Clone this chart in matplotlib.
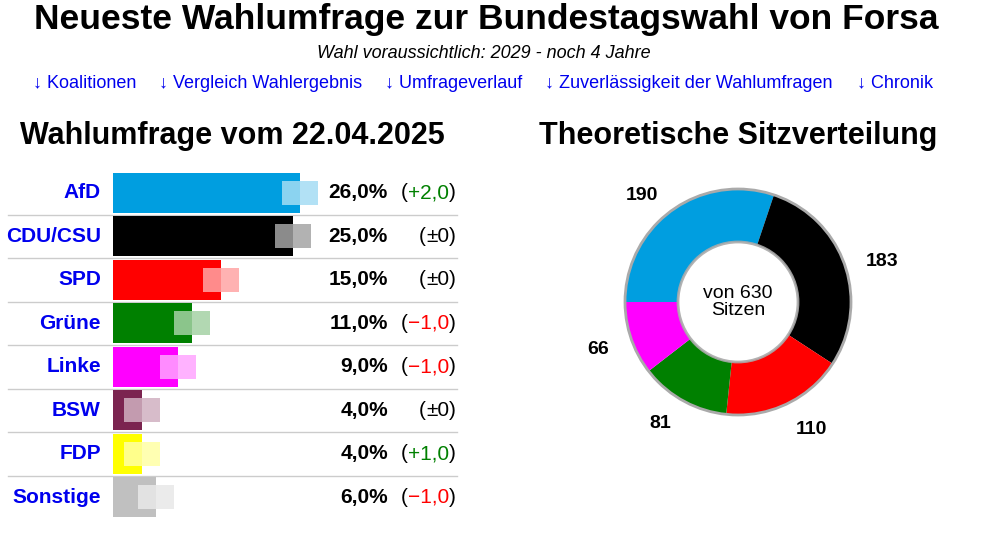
import matplotlib
matplotlib.use("Agg")
import matplotlib.pyplot as plt
from matplotlib.patches import Rectangle, Circle

plt.rcParams['font.family'] = ['Liberation Sans', 'DejaVu Sans']

parties = ["AfD", "CDU/CSU", "SPD", "Grüne", "Linke", "BSW", "FDP", "Sonstige"]
values = [26.0, 25.0, 15.0, 11.0, 9.0, 4.0, 4.0, 6.0]
changes = ["+2,0", "±0", "±0", "−1,0", "−1,0", "±0", "+1,0", "−1,0"]
colors = ["#009ee0", "#000000", "#ff0000", "#008000", "#ff00ff", "#7b2450", "#ffff00", "#c0c0c0"]
seat_parties = ["AfD", "CDU/CSU", "SPD", "Grüne", "Linke"]
seats = [190, 183, 110, 81, 66]
seat_colors = ["#009ee0", "#000000", "#ff0000", "#008000", "#ff00ff"]
links = ["↓ Koalitionen", "↓ Vergleich Wahlergebnis", "↓ Umfrageverlauf",
         "↓ Zuverlässigkeit der Wahlumfragen", "↓ Chronik"]

W, H = 998, 540
fig = plt.figure(figsize=(W/100, H/100), dpi=100)
bg = fig.add_axes([0, 0, 1, 1])
bg.set_xlim(0, W); bg.set_ylim(H, 0); bg.axis("off")
renderer = fig.canvas.get_renderer()

bg.text(486, 20, "Neueste Wahlumfrage zur Bundestagswahl von Forsa", ha="center", va="center",
        fontsize=25.5, fontweight="bold")
bg.text(484, 54, "Wahl voraussichtlich: 2029 - noch 4 Jahre", ha="center", va="center",
        fontsize=13, style="italic")
link_x = [33, 159, 385, 545, 857]
for x, t in zip(link_x, links):
    bg.text(x, 83, t, ha="left", va="center", fontsize=13, color="#0000ee")
bg.text(232, 136, "Wahlumfrage vom 22.04.2025", ha="center", va="center", fontsize=22, fontweight="bold")
bg.text(738, 136, "Theoretische Sitzverteilung", ha="center", va="center", fontsize=22, fontweight="bold")

# bars
top, rowh = 171, 43.5
n = len(parties)
scale = 7.2
ax = fig.add_axes([113/W, 1-(top+n*rowh)/H, 344/W, n*rowh/H])
ax.set_xlim(0, 344/scale); ax.set_ylim(n-0.5, -0.5); ax.axis("off")
ys = list(range(n))
ax.barh(ys, values, height=0.92, color=colors)
for i, v in enumerate(values):
    ax.add_patch(Rectangle((v-2.5, i-0.28), 2.5, 0.56, color="white", alpha=0.55, lw=0))
    ax.add_patch(Rectangle((v, i-0.28), 2.5, 0.56, color=colors[i], alpha=0.3, lw=0))

def width_px(t):
    return t.get_window_extent(renderer).width

for i in range(n):
    yc = top + (i+0.5)*rowh
    bg.text(101, yc, parties[i], ha="right", va="center", fontsize=15, fontweight="bold", color="#0000ee")
    bg.text(388, yc, f"{values[i]:.1f}%".replace(".", ","), ha="right", va="center",
            fontsize=15, fontweight="bold")
    ch = changes[i]
    c = "green" if ch.startswith("+") else ("red" if ch.startswith("−") else "black")
    t1 = bg.text(456, yc, ")", ha="right", va="center", fontsize=15)
    x = 456 - width_px(t1)
    t2 = bg.text(x, yc, ch, ha="right", va="center", fontsize=15, color=c)
    x -= width_px(t2)
    bg.text(x, yc, "(", ha="right", va="center", fontsize=15)
    if i < n-1:
        bg.plot([8, 457], [top+(i+1)*rowh]*2, color="#cccccc", lw=1)

# donut
cx, cy, R = 738, 302, 113
pax = fig.add_axes([(cx-120)/W, 1-(cy+120)/H, 240/W, 240/H])
pax.pie(seats, colors=seat_colors, radius=R, startangle=180, counterclock=False,
        wedgeprops=dict(width=53, linewidth=0))
pax.set_xlim(-120, 120); pax.set_ylim(-120, 120); pax.set_aspect("equal"); pax.axis("off")
pax.add_patch(Circle((0, 0), R, fill=False, ec="#aaaaaa", lw=2))
pax.add_patch(Circle((0, 0), 60, fc="white", alpha=0.9, ec="#aaaaaa", lw=2))
pax.text(0, 0, "von 630\nSitzen", ha="center", va="center", fontsize=14, linespacing=1.0)
label_pos = [(642, 196), (882, 262), (811, 430), (660, 424), (598, 350)]
for (x, y), s in zip(label_pos, seats):
    bg.text(x, y, str(s), ha="center", va="center", fontsize=14, fontweight="bold")

fig.savefig("out.png", dpi=100)
